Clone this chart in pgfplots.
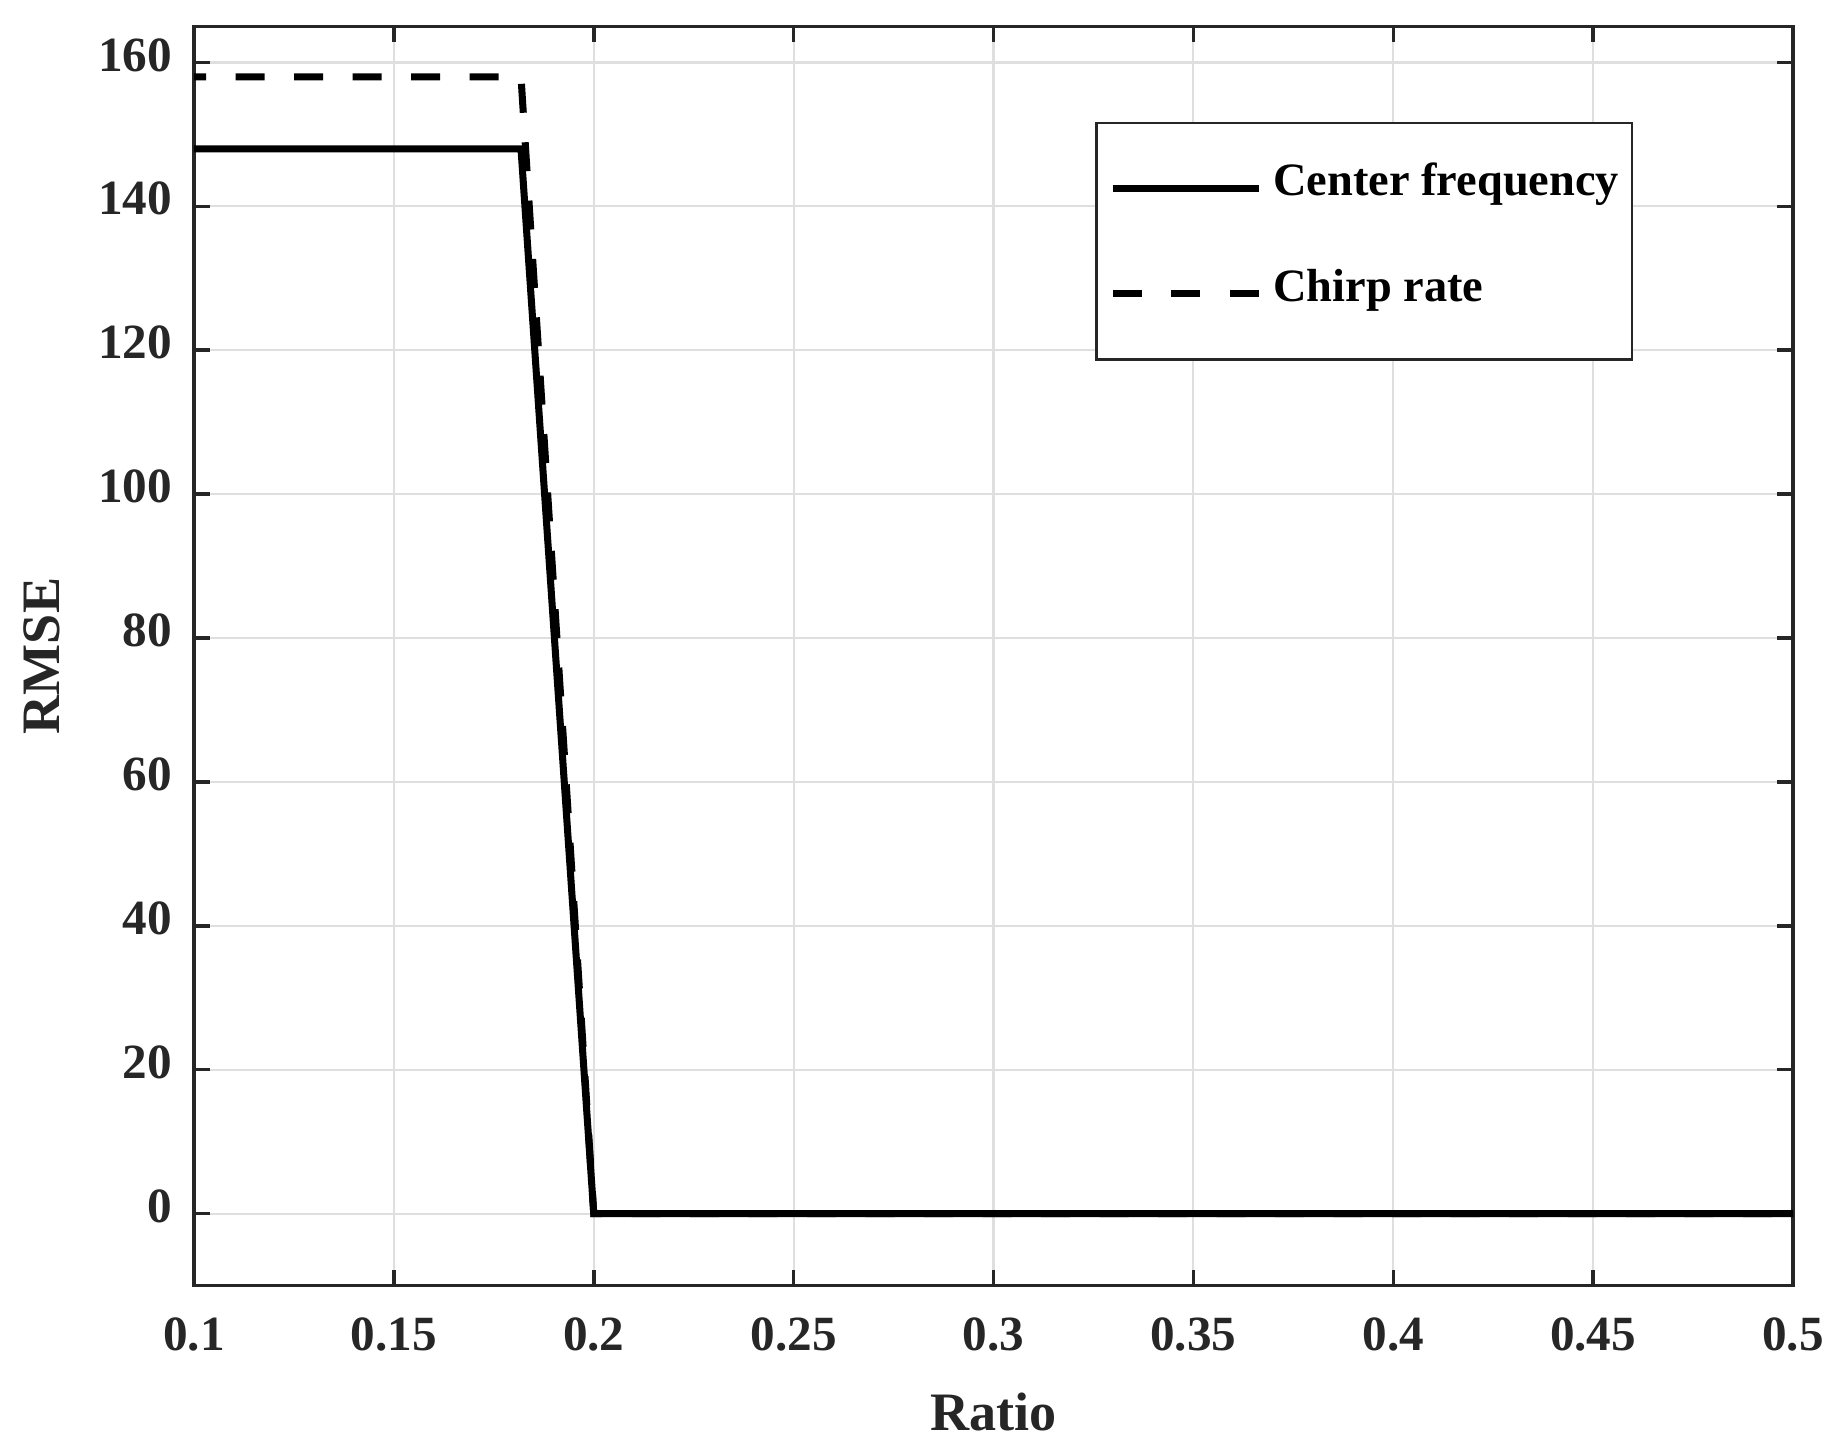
\documentclass[border=0pt]{standalone}
\usepackage{fontspec}
\setmainfont{Liberation Serif}
\usepackage{pgfplots}
\pgfplotsset{compat=1.18}
\definecolor{axgray}{RGB}{38,38,38}
\definecolor{gridgray}{RGB}{223,223,223}
\begin{document}
\begin{tikzpicture}
\useasboundingbox (0,0) rectangle (18.42,14.54);
\begin{axis}[
  at={(1.94cm,1.685cm)}, anchor=south west,
  scale only axis, width=15.99cm, height=12.59cm,
  xmin=0.1, xmax=0.5, ymin=-10, ymax=165,
  xtick={0.1,0.15,0.2,0.25,0.3,0.35,0.4,0.45,0.5},
  ytick={0,20,40,60,80,100,120,140,160},
  axis line style={color=axgray, line width=1pt},
  tick align=inside, major tick length=0.16cm,
  every tick/.style={color=axgray, line width=1pt},
  grid=major, grid style={color=gridgray, line width=0.6pt},
  /pgf/number format/assume math mode=true,
  ticklabel style={font=\fontsize{14}{16}\selectfont\bfseries, color=axgray, inner sep=0pt},
  xticklabel style={anchor=north, yshift=-0.315cm},
  yticklabel style={anchor=east, xshift=-0.213cm, yshift=0.075cm},
  xlabel={Ratio}, ylabel={RMSE},
  xlabel style={font=\fontsize{15.4}{18}\selectfont\bfseries, color=axgray, at={(axis description cs:0.5,-0.1148)}, anchor=base, inner sep=0pt},
  ylabel style={font=\fontsize{15.4}{18}\selectfont\bfseries, color=axgray, at={(axis description cs:-0.0844,0.5)}, anchor=base, inner sep=0pt},
  legend style={at={(0.5635,0.9245)}, anchor=north west, draw=axgray, line width=0.7pt, fill=white,
    inner xsep=0.13cm, inner ysep=0.43cm, row sep=0.608cm, column sep=0.11cm,
    font=\fontsize{13.2}{15}\selectfont\bfseries,
    nodes={inner sep=0pt, text height=0.30cm, text depth=0.15cm, anchor=base west}},
  legend cell align=left,
  legend image code/.code={\draw[#1, dash phase=0pt] (0cm,0.077cm) -- (1.46cm,0.077cm);},
]
\addplot[black, line width=2pt] coordinates {(0.1,148) (0.1818,148) (0.2,0) (0.5,0)};
\addlegendentry{Center frequency}
\addplot[black, line width=2pt, dash pattern=on 0.29cm off 0.295cm, dash phase=0.17cm] coordinates {(0.1,158) (0.1818,158) (0.2,0) (0.5,0)};
\addlegendentry{Chirp rate}
\end{axis}
\end{tikzpicture}
\end{document}
